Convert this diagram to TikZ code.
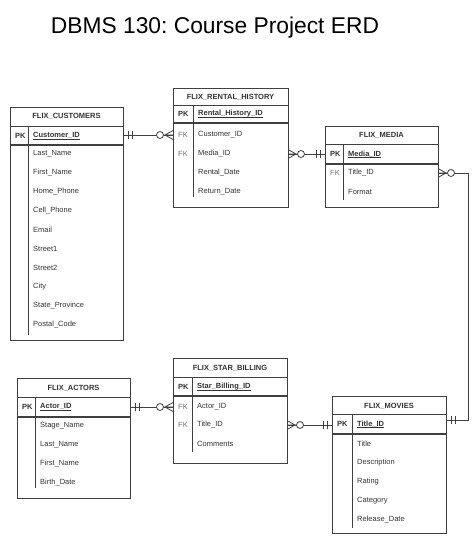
\documentclass[tikz,border=0pt]{standalone}
\usepackage{fontspec}
\setmainfont{Liberation Sans}
\usepackage{xcolor}
\frenchspacing

\definecolor{linegray}{gray}{0.25}
\definecolor{txtgray}{gray}{0.2}
\definecolor{fkgray}{gray}{0.45}

% underline set close to the baseline
\newcommand\keyline[1]{\setbox0\hbox{#1}\rlap{\rule[-1.3pt]{\wd0}{0.45pt}}\box0}

\tikzset{
  box/.style={draw=linegray, line width=0.8pt},
  conn/.style={draw=linegray, line width=0.8pt},
  hdr/.style={font=\fontsize{7.5}{9}\selectfont\bfseries, text=txtgray},
  pk/.style={font=\fontsize{7.5}{9}\selectfont\bfseries, text=txtgray, anchor=west, inner sep=0pt},
  attr/.style={font=\fontsize{7.5}{9}\selectfont, text=txtgray, anchor=west, inner sep=0pt},
  fk/.style={font=\fontsize{7.5}{9}\selectfont, text=fkgray, anchor=west, inner sep=0pt},
  onlyone/.pic={\draw[conn] (5,-4) -- (5,4) (9,-4) -- (9,4);},
  zeromany/.pic={
    \draw[conn] (0,4.5) -- (8,0) (0,-4.5) -- (8,0) (0,0) -- (9.5,0);
    \draw[conn, fill=white] (13,0) circle (3.5pt);},
}

\begin{document}
\begin{tikzpicture}[x=1pt, y=-1pt]
    \useasboundingbox (0,0) rectangle (474,542);

    \node[font=\fontsize{22.8}{26}\selectfont] (title) at (215,28) {DBMS 130: Course Project ERD};

    % FLIX_CUSTOMERS
    \draw[box] (10,107) rectangle (123,340);
    \draw[box] (10,126) -- (123,126);
    \draw[box, line width=1.3pt] (10,145) -- (123,145);
    \draw[box] (28,126) -- (28,335);
    \node[hdr] (cust) at (66.5,116) {FLIX\_CUSTOMERS};
    \node[pk] (cust-pk) at (15,136) {PK};
    \node[pk] (cust-id) at (33,136) {\keyline{Customer\_ID}};
    \node[attr] (cust-a1) at (33,154) {Last\_Name};
    \node[attr] (cust-a2) at (33,173) {First\_Name};
    \node[attr] (cust-a3) at (33,192) {Home\_Phone};
    \node[attr] (cust-a4) at (33,211) {Cell\_Phone};
    \node[attr] (cust-a5) at (33,230) {Email};
    \node[attr] (cust-a6) at (33,249) {Street1};
    \node[attr] (cust-a7) at (33,268) {Street2};
    \node[attr] (cust-a8) at (33,287) {City};
    \node[attr] (cust-a9) at (33,306) {State\_Province};
    \node[attr] (cust-a10) at (33,325) {Postal\_Code};
    \coordinate (cust-r) at (123,135);

    % FLIX_RENTAL_HISTORY
    \draw[box] (173,88) rectangle (288,207);
    \draw[box] (173,105) -- (288,105);
    \draw[box, line width=1.3pt] (173,123) -- (288,123);
    \draw[box] (193,105) -- (193,197);
    \node[hdr] (rent) at (230.5,97) {FLIX\_RENTAL\_HISTORY};
    \node[pk] (rent-pk) at (178,114) {PK};
    \node[pk] (rent-id) at (198,114) {\keyline{Rental\_History\_ID}};
    \node[fk] (rent-fk1) at (178,135) {FK};
    \node[attr] (rent-a1) at (198,135) {Customer\_ID};
    \node[fk] (rent-fk2) at (178,154) {FK};
    \node[attr] (rent-a2) at (198,154) {Media\_ID};
    \node[attr] (rent-a3) at (198,173) {Rental\_Date};
    \node[attr] (rent-a4) at (198,192) {Return\_Date};
    \coordinate (rent-l) at (173,135);
    \coordinate (rent-r) at (288,154);

    % FLIX_MEDIA
    \draw[box] (325,126) rectangle (438,207);
    \draw[box] (325,144) -- (438,144);
    \draw[box, line width=1.3pt] (325,164) -- (438,164);
    \draw[box] (343,144) -- (343,200);
    \node[hdr] (media) at (381.5,135) {FLIX\_MEDIA};
    \node[pk] (media-pk) at (330,154) {PK};
    \node[pk] (media-id) at (348,154) {\keyline{Media\_ID}};
    \node[fk] (media-fk) at (330,173) {FK};
    \node[attr] (media-a1) at (348,173) {Title\_ID};
    \node[attr] (media-a2) at (348,192) {Format};
    \coordinate (media-l) at (325,154);
    \coordinate (media-r) at (438,173);

    % FLIX_ACTORS
    \draw[box] (17,378) rectangle (130,498);
    \draw[box] (17,397) -- (130,397);
    \draw[box, line width=1.3pt] (17,417) -- (130,417);
    \draw[box] (35,397) -- (35,488);
    \node[hdr] (actor) at (73.5,388) {FLIX\_ACTORS};
    \node[pk] (actor-pk) at (22,407) {PK};
    \node[pk] (actor-id) at (40,407) {\keyline{Actor\_ID}};
    \node[attr] (actor-a1) at (40,426) {Stage\_Name};
    \node[attr] (actor-a2) at (40,445) {Last\_Name};
    \node[attr] (actor-a3) at (40,464) {First\_Name};
    \node[attr] (actor-a4) at (40,483) {Birth\_Date};
    \coordinate (actor-r) at (130,407);

    % FLIX_STAR_BILLING
    \draw[box] (173,358) rectangle (287,463);
    \draw[box] (173,377) -- (287,377);
    \draw[box, line width=1.3pt] (173,396) -- (287,396);
    \draw[box] (192,377) -- (192,452);
    \node[hdr] (star) at (230,368) {FLIX\_STAR\_BILLING};
    \node[pk] (star-pk) at (178,387) {PK};
    \node[pk] (star-id) at (197,387) {\keyline{Star\_Billing\_ID}};
    \node[fk] (star-fk1) at (178,407) {FK};
    \node[attr] (star-a1) at (197,407) {Actor\_ID};
    \node[fk] (star-fk2) at (178,425) {FK};
    \node[attr] (star-a2) at (197,425) {Title\_ID};
    \node[attr] (star-a3) at (197,444) {Comments};
    \coordinate (star-l) at (173,407);
    \coordinate (star-r) at (287,425);

    % FLIX_MOVIES
    \draw[box] (332,396) rectangle (446,533);
    \draw[box] (332,414) -- (446,414);
    \draw[box, line width=1.3pt] (332,434) -- (446,434);
    \draw[box] (352,414) -- (352,528);
    \node[hdr] (movie) at (389,406) {FLIX\_MOVIES};
    \node[pk] (movie-pk) at (337,424) {PK};
    \node[pk] (movie-id) at (357,424) {\keyline{Title\_ID}};
    \node[attr] (movie-a1) at (357,444) {Title};
    \node[attr] (movie-a2) at (357,463) {Description};
    \node[attr] (movie-a3) at (357,482) {Rating};
    \node[attr] (movie-a4) at (357,501) {Category};
    \node[attr] (movie-a5) at (357,520) {Release\_Date};
    \coordinate (movie-l) at (332,425);
    \coordinate (movie-r) at (446,420);
    \coordinate (bend) at (468,0);

    % relationships
    \draw[conn] (cust-r) -- (rent-l);
    \pic at (cust-r) {onlyone};
    \pic[xscale=-1] at (rent-l) {zeromany};

    \draw[conn] (rent-r) -- (media-l);
    \pic at (rent-r) {zeromany};
    \pic[xscale=-1] at (media-l) {onlyone};

    \draw[conn] (media-r) -- (bend |- media-r) -- (bend |- movie-r) -- (movie-r);
    \pic at (media-r) {zeromany};
    \pic at (movie-r) {onlyone};

    \draw[conn] (actor-r) -- (star-l);
    \pic at (actor-r) {onlyone};
    \pic[xscale=-1] at (star-l) {zeromany};

    \draw[conn] (star-r) -- (movie-l);
    \pic at (star-r) {zeromany};
    \pic[xscale=-1] at (movie-l) {onlyone};
\end{tikzpicture}
\end{document}
